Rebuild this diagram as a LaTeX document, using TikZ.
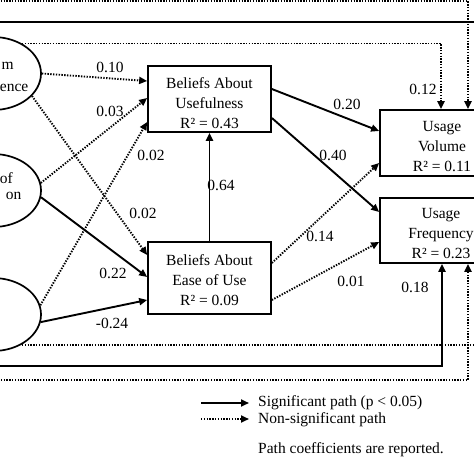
\documentclass[tikz,border=0pt]{standalone}
\usepackage{fontspec}
\setmainfont{Liberation Serif}
\usetikzlibrary{arrows.meta,shapes.geometric}
\tikzset{
  sig/.style={line width=1.9pt,-{Triangle[length=8pt,width=7pt]}},
  nsig/.style={line width=1.9pt,dash pattern=on 1.4pt off 1.4pt,-{Triangle[length=8pt,width=7pt]}},
  sigline/.style={line width=1.9pt},
  nsigline/.style={line width=1.9pt,dash pattern=on 1.4pt off 1.4pt},
  box/.style={draw,line width=1.7pt,rectangle,inner sep=0pt},
  ell/.style={draw,line width=1.7pt,ellipse,minimum width=96pt,minimum height=73pt,inner sep=0pt},
  txt/.style={font=\fontsize{15.5}{20}\selectfont,align=center,inner sep=0pt},
  lab/.style={font=\fontsize{15.5}{19}\selectfont,inner sep=0pt}
}
\begin{document}
\begin{tikzpicture}[x=1pt,y=-1pt]
\useasboundingbox (0,0) rectangle (474,474);
\clip (0,0) rectangle (474,474);
% ellipses (cut off at the left)
\node[ell] (E1) at (-7,73.5) {};
\node[ell] (E2) at (-7,190.5) {};
\node[ell] (E3) at (-7,314.5) {};
\node[lab,anchor=east] (E1a) at (14,66) {m};
\node[lab,anchor=east] (E1b) at (28.5,88) {ence};
\node[lab,anchor=east] (E2a) at (13,178) {of};
\node[lab,anchor=east] (E2b) at (21.5,196) {on};
% boxes
\node[box,minimum width=123pt,minimum height=66pt] (U) at (209.5,99) {};
\node[txt] (Ut) at (209.5,103) {Beliefs About\\Usefulness\\R² = 0.43};
\node[box,minimum width=123pt,minimum height=72pt] (EoU) at (209.5,278) {};
\node[txt] (EoUt) at (209.5,280) {Beliefs About\\Ease of Use\\R² = 0.09};
\node[box,minimum width=130pt,minimum height=66pt] (UV) at (445,143) {};
\node[txt] (UVt) at (442,147) {Usage\\Volume\\R² = 0.11};
\node[box,minimum width=130pt,minimum height=65pt] (UF) at (445,230.5) {};
\node[txt] (UFt) at (441,234) {Usage\\Frequency\\R² = 0.23};
% free ends
\coordinate (lt1) at (-2,1);
\coordinate (lt2) at (-2,22);
\coordinate (rt2) at (480,22);
\coordinate (redge) at (480,0);
\coordinate (lb1) at (-2,366);
\coordinate (lb2) at (-2,380);
% left paths
\draw[nsig] (E1.0) -- ([yshift=18pt]U.west);
\draw[nsig] (E2.9) -- ([yshift=1pt]U.west);
\draw[nsig] (E3.11) -- ([yshift=-23pt]U.west);
\draw[nsig] (E1.-30) -- ([yshift=23pt]EoU.west);
\draw[sig] (E2.-8) -- ([yshift=1pt]EoU.west);
\draw[sig] (E3.-9) -- ([yshift=-22pt]EoU.west);
\draw[sig] (EoU.north) -- (U.south);
% right paths
\draw[sig] ([yshift=10pt]U.east) -- ([yshift=12pt]UV.west);
\draw[sig] ([yshift=-19pt]U.east) -- ([yshift=18.5pt]UF.west);
\draw[nsig] ([yshift=15pt]EoU.east) -- ([yshift=-20pt]UV.west);
\draw[nsig] ([yshift=-22pt]EoU.east) -- ([yshift=-11.5pt]UF.west);
% top and bottom paths
\draw[nsig] (E1.46) -| ([xshift=-4pt]UV.north);
\draw[nsig] (lt1) -| ([xshift=23pt]UV.north);
\draw[sigline] (lt2) -- (rt2);
\draw[nsigline] (E3.-46) -- (E3.-46 -| redge);
\draw[sig] (lb1) -| ([xshift=-3pt]UF.south);
\draw[nsig] (lb2) -| ([xshift=23pt]UF.south);
% coefficients
\node[lab] (c1) at (110,67) {0.10};
\node[lab] (c2) at (110,111) {0.03};
\node[lab] (c3) at (151,155) {0.02};
\node[lab] (c4) at (143,213) {0.02};
\node[lab] (c5) at (113,273) {0.22};
\node[lab] (c6) at (112,323) {-0.24};
\node[lab] (c7) at (221,185) {0.64};
\node[lab] (c8) at (347,104) {0.20};
\node[lab] (c9) at (333,155) {0.40};
\node[lab] (c10) at (320,236) {0.14};
\node[lab] (c11) at (351,281) {0.01};
\node[lab] (c12) at (423,89) {0.12};
\node[lab] (c13) at (415,287) {0.18};
% legend
\coordinate (la1) at (201,403);
\coordinate (lb1e) at (249,403);
\coordinate (la2) at (201,419);
\coordinate (lb2e) at (249,419);
\draw[sig] (la1) -- (lb1e);
\draw[nsig] (la2) -- (lb2e);
\node[lab,anchor=west] (g1) at (258,403) {Significant path (p < 0.05)};
\node[lab,anchor=west] (g2) at (258,420) {Non-significant path};
\node[lab,anchor=west] (g3) at (258,450) {Path coefficients are reported.};
\end{tikzpicture}
\end{document}
